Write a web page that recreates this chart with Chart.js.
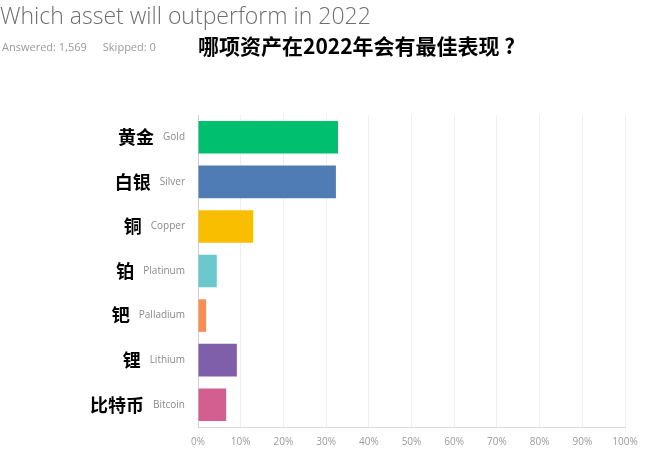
<!DOCTYPE html>
<html>
<head>
<meta charset="utf-8">
<script src="https://cdn.jsdelivr.net/npm/chart.js@4"></script>
<style>
  body { margin: 0; background: #fff; }
  #wrap { position: relative; width: 650px; height: 461px; }
  #title { position: absolute; left: 0; top: -1px; font: 300 23px "Open Sans", sans-serif; color: #6e6e6e; white-space: nowrap; }
  #stats { position: absolute; left: 2px; top: 39px; font: 11px "Open Sans", sans-serif; color: #9a9a9a; white-space: nowrap; }
  #stats span { margin-right: 16px; }
  #cn { position: absolute; left: 198px; top: 30px; font: bold 21px "Noto Sans CJK SC", sans-serif; color: #000; white-space: nowrap; }
</style>
</head>
<body>
<div id="wrap">
  <canvas id="chart" width="650" height="461"></canvas>
  <div id="title">Which asset will outperform in 2022</div>
  <div id="stats"><span>Answered: 1,569</span><span>Skipped: 0</span></div>
  <div id="cn">哪项资产在2022年会有最佳表现 ?</div>
</div>
<script>
// answer options, Chinese and English names
const labelsCn = ["黄金", "白银", "铜", "铂", "钯", "锂", "比特币"];
const labelsEn = ["Gold", "Silver", "Copper", "Platinum", "Palladium", "Lithium", "Bitcoin"];
// share of respondents, in percent
const shares = [32.8, 32.3, 12.9, 4.4, 1.9, 9.1, 6.6];
const colors = ["#00bf6f", "#507cb6", "#f9be00", "#6bc8cd", "#ff8b4f", "#7f5fa9", "#d25f90"];
const xTicks = [0, 10, 20, 30, 40, 50, 60, 70, 80, 90, 100];

// draws the two-part category labels next to each bar
const twoPartLabels = {
  id: "twoPartLabels",
  afterDraw(chart) {
    const ctx = chart.ctx;
    const y = chart.scales.y;
    ctx.save();
    ctx.textAlign = "right";
    ctx.textBaseline = "middle";
    labelsEn.forEach((en, i) => {
      const py = y.getPixelForValue(i);
      ctx.font = "10px 'Open Sans', sans-serif";
      ctx.fillStyle = "#8a8a8a";
      ctx.fillText(en, 185, py);
      const w = ctx.measureText(en).width;
      ctx.font = "bold 18px 'Noto Sans CJK SC', sans-serif";
      ctx.fillStyle = "#000";
      ctx.fillText(labelsCn[i], 185 - w - 9, py);
    });
    ctx.restore();
  }
};

new Chart(document.getElementById("chart"), {
  type: "bar",
  data: {
    labels: labelsEn,
    datasets: [{
      data: shares,
      backgroundColor: colors,
      categoryPercentage: 1,
      barPercentage: 0.73
    }]
  },
  options: {
    indexAxis: "y",
    responsive: false,
    animation: false,
    layout: { padding: { left: 190, right: 25, top: 115, bottom: 4 } },
    plugins: { legend: { display: false }, tooltip: { enabled: false } },
    scales: {
      x: {
        min: 0,
        max: 100,
        afterBuildTicks: (s) => { s.ticks = xTicks.map(v => ({ value: v })); },
        grid: { color: "#efefef", drawTicks: false },
        border: { color: "#dcdcdc" },
        ticks: {
          padding: 9,
          color: "#9a9a9a",
          font: { family: "'Open Sans', sans-serif", size: 10 },
          callback: (v) => v + "%"
        }
      },
      y: {
        grid: { display: false },
        border: { color: "#d0d0d0" },
        ticks: { display: false }
      }
    }
  },
  plugins: [twoPartLabels]
});
</script>
</body>
</html>
